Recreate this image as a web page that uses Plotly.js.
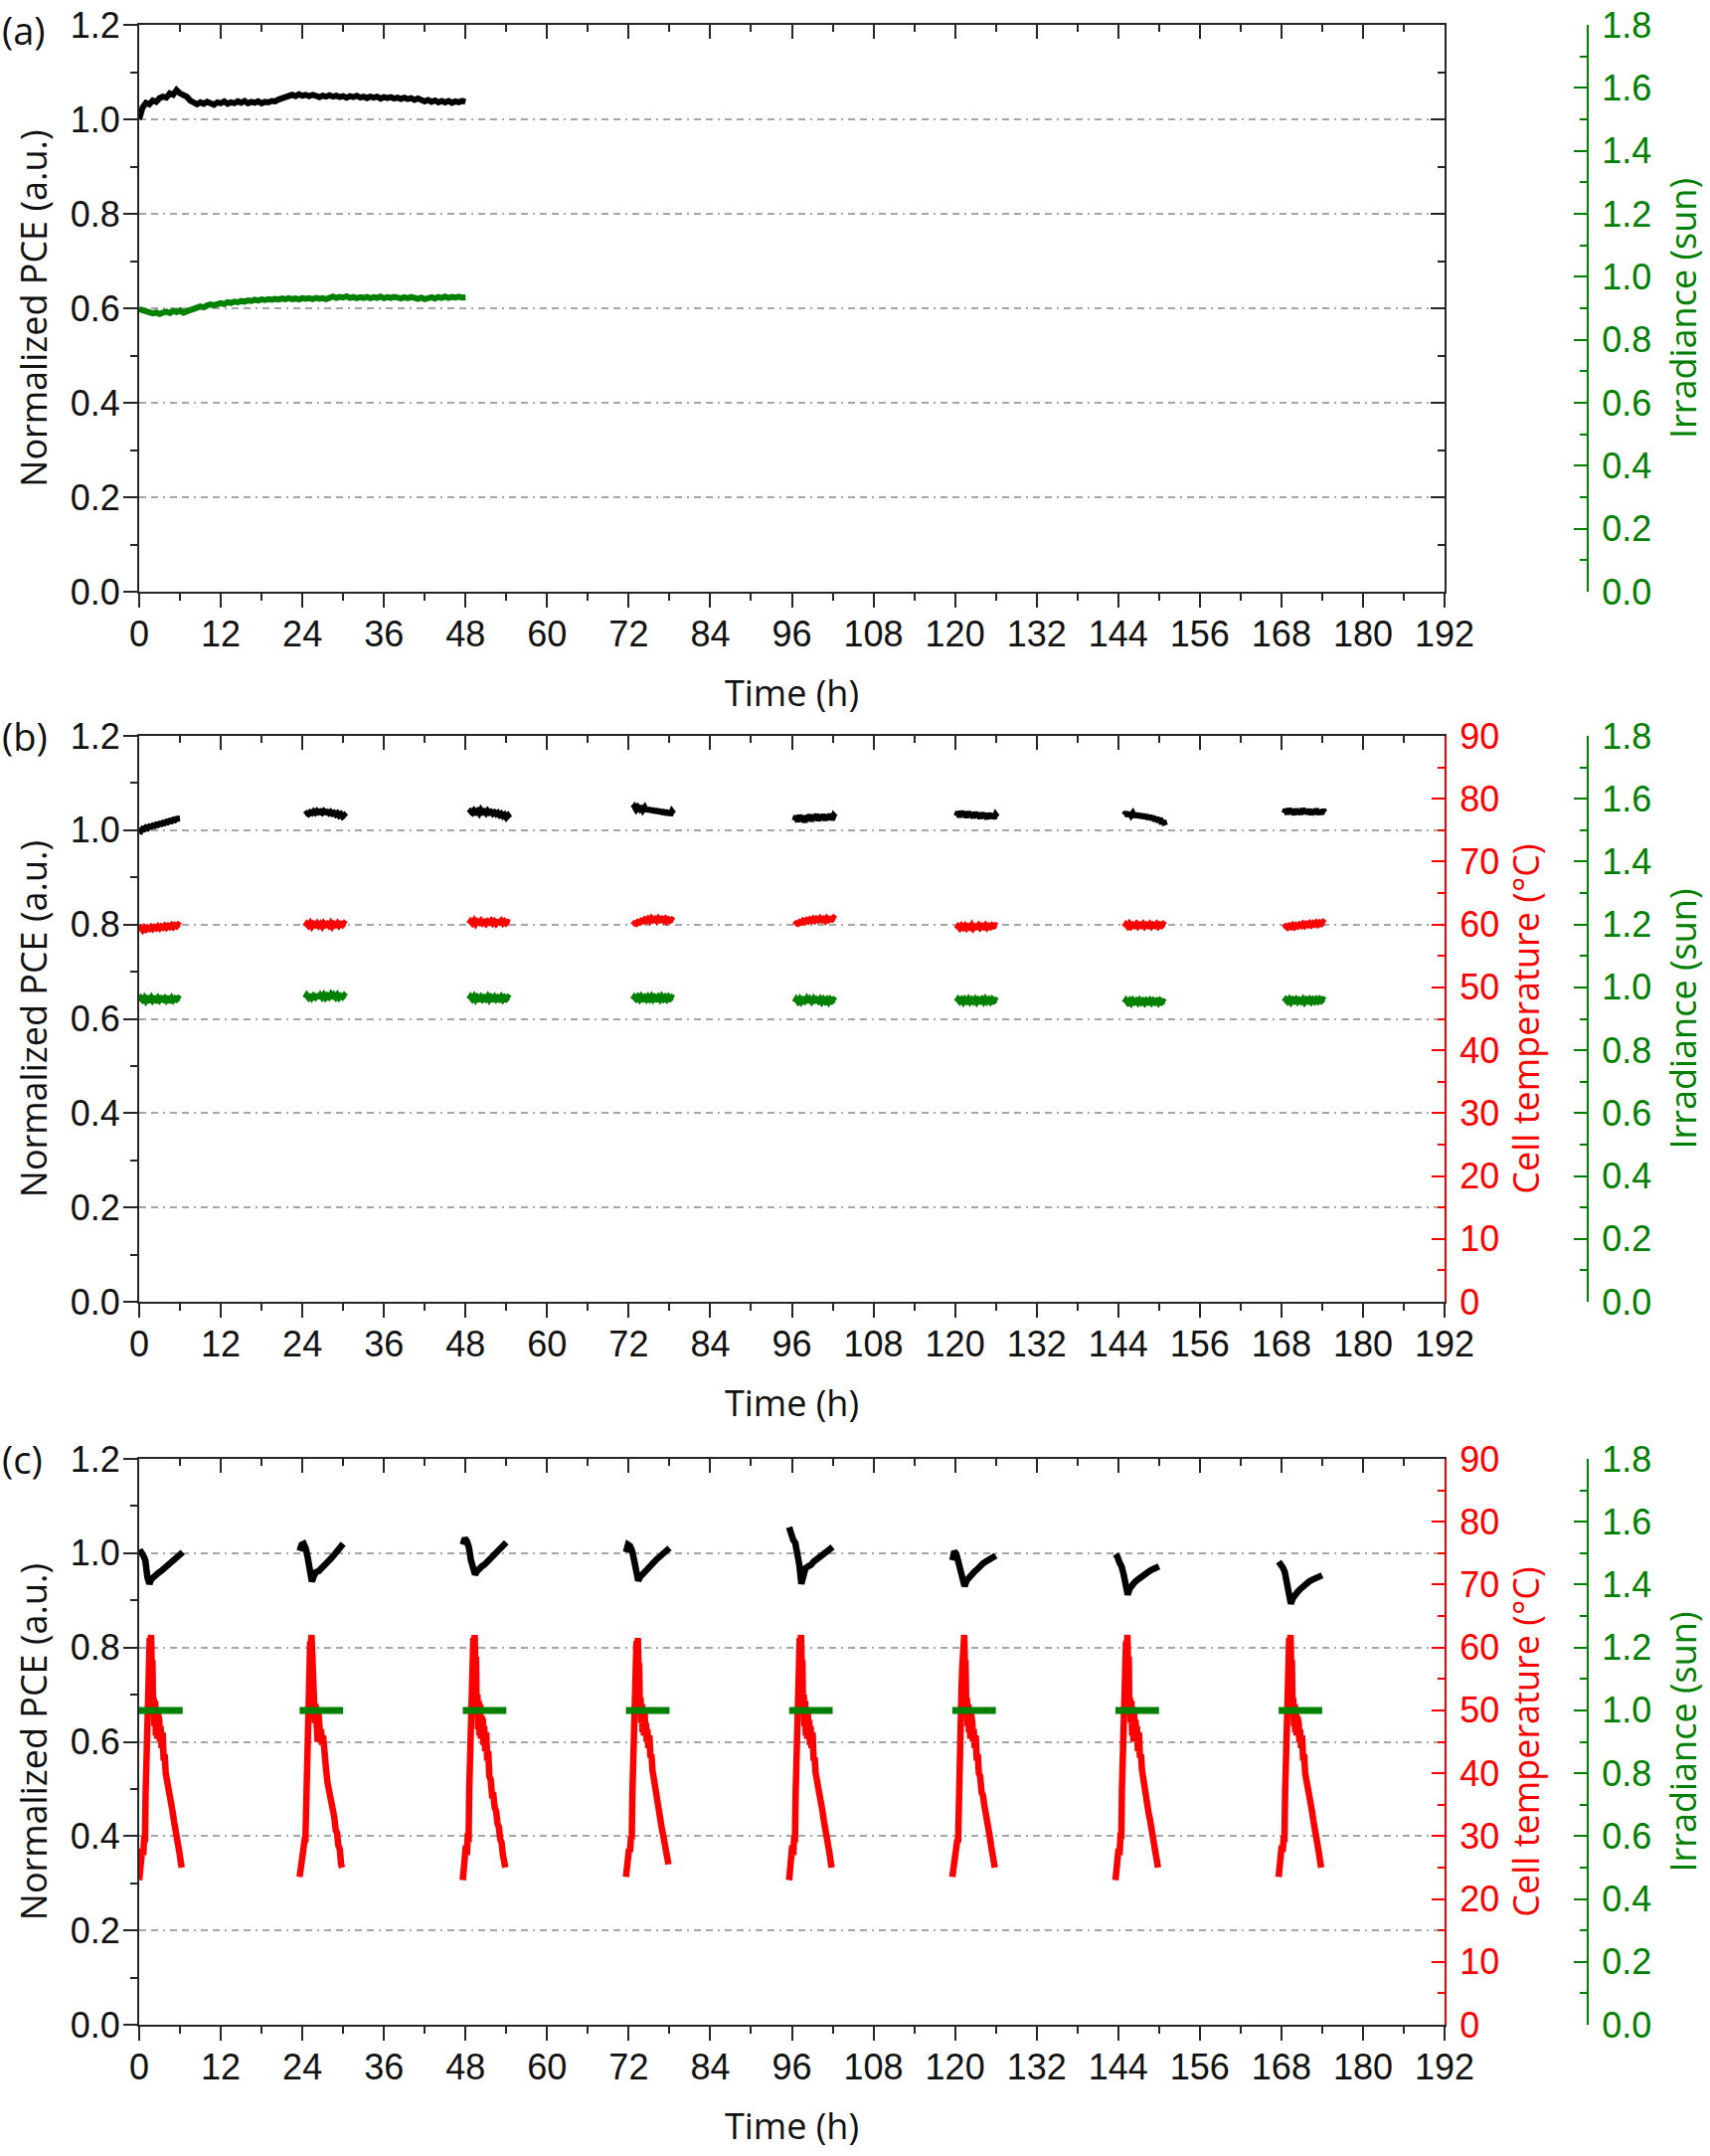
<!DOCTYPE html>
<html><head><meta charset="utf-8">
<script src="https://cdn.plot.ly/plotly-3.0.1.min.js"></script>
<style>html,body{margin:0;padding:0;background:#fff}</style>
</head><body><div id="chart" style="width:1720px;height:2168px"></div>
<script>
// ---------------- DATA ----------------
const xTickVals = [0,12,24,36,48,60,72,84,96,108,120,132,144,156,168,180,192];

// Panel (a): continuous 48 h run, sampled every 0.5 h
const aStep = 0.5;
const aPCE = [
 1.000,1.025,1.035,1.032,1.040,1.037,1.045,1.048,1.046,1.055,
 1.052,1.062,1.055,1.052,1.048,1.040,1.035,1.032,1.036,1.033,
 1.037,1.035,1.031,1.036,1.034,1.038,1.033,1.036,1.034,1.038,
 1.035,1.039,1.034,1.037,1.035,1.038,1.034,1.037,1.036,1.039,
 1.038,1.042,1.045,1.048,1.050,1.052,1.049,1.053,1.050,1.052,
 1.049,1.052,1.050,1.047,1.050,1.048,1.051,1.048,1.050,1.047,
 1.049,1.046,1.049,1.047,1.050,1.046,1.048,1.045,1.048,1.046,
 1.048,1.044,1.047,1.045,1.047,1.044,1.046,1.043,1.046,1.043,
 1.045,1.041,1.044,1.040,1.038,1.041,1.037,1.040,1.036,1.039,
 1.036,1.039,1.035,1.038,1.036,1.039,1.037];
const aIrr = [
 0.897,0.893,0.889,0.886,0.884,0.887,0.882,0.886,0.889,0.885,
 0.891,0.888,0.893,0.886,0.889,0.893,0.898,0.902,0.906,0.903,
 0.909,0.912,0.910,0.914,0.916,0.913,0.919,0.917,0.921,0.919,
 0.923,0.921,0.925,0.923,0.927,0.925,0.928,0.926,0.929,0.927,
 0.930,0.928,0.931,0.929,0.932,0.929,0.931,0.928,0.932,0.930,
 0.932,0.929,0.933,0.930,0.932,0.929,0.934,0.937,0.933,0.936,
 0.934,0.938,0.933,0.936,0.932,0.935,0.933,0.936,0.932,0.935,
 0.933,0.937,0.932,0.935,0.933,0.936,0.934,0.931,0.935,0.932,
 0.936,0.933,0.930,0.934,0.929,0.932,0.935,0.931,0.936,0.933,
 0.937,0.933,0.936,0.934,0.937,0.934,0.935];

// Panel (b): 8 daily segments, sampled every 0.25 h
const bStarts = [0, 24.4, 48.5, 72.6, 96.4, 120.2, 144.9, 168.4];
const bStep = 0.25;
const bPCE = [
 [1.000,0.998,1.003,1.002,1.006,1.004,1.008,1.007,1.010,1.009,1.012,1.011,1.014,1.013,1.016,1.015,1.018,1.017,1.020,1.019,1.022,1.021,1.024,1.023,1.025],
 [1.033,1.036,1.034,1.038,1.036,1.040,1.037,1.041,1.038,1.040,1.037,1.041,1.038,1.039,1.036,1.039,1.035,1.037,1.033,1.036,1.031,1.034,1.029,1.032,1.028],
 [1.036,1.040,1.037,1.042,1.038,1.041,1.036,1.043,1.038,1.040,1.036,1.041,1.037,1.039,1.035,1.038,1.034,1.037,1.032,1.035,1.030,1.033,1.027,1.031,1.026],
 [1.046,1.050,1.044,1.049,1.045,1.051,1.043,1.048,1.041,1.047,1.040,1.046,1.038,1.045,1.037,1.044,1.036,1.043,1.034,1.042,1.033,1.041,1.032,1.040,1.035],
 [1.020,1.030,1.018,1.032,1.021,1.029,1.017,1.031,1.022,1.033,1.019,1.030,1.023,1.034,1.020,1.031,1.024,1.033,1.021,1.032,1.023,1.034,1.022,1.031,1.027],
 [1.030,1.039,1.028,1.040,1.031,1.038,1.027,1.039,1.030,1.037,1.026,1.038,1.029,1.036,1.025,1.037,1.028,1.035,1.024,1.036,1.027,1.034,1.025,1.033,1.028],
 [1.032,1.038,1.030,1.037,1.031,1.036,1.029,1.035,1.028,1.034,1.027,1.033,1.026,1.032,1.024,1.031,1.023,1.029,1.020,1.027,1.018,1.025,1.014,1.020,1.010],
 [1.036,1.044,1.034,1.046,1.037,1.043,1.033,1.045,1.036,1.042,1.034,1.046,1.037,1.043,1.035,1.044,1.033,1.042,1.036,1.045,1.034,1.041,1.035,1.043,1.038]];
const bTemp = [
 [59.0,59.4,59.1,59.5,59.2,59.5,59.3,59.6,59.3,59.6,59.4,59.7,59.4,59.7,59.5,59.8,59.5,59.8,59.6,59.9,59.6,59.9,59.7,60.0,59.8],
 [59.7,60.1,59.8,60.2,59.7,60.1,59.9,60.2,59.8,60.1,59.7,60.2,59.9,60.1,59.8,60.2,59.7,60.1,59.9,60.2,59.8,60.1,59.9,60.2,60.0],
 [60.1,60.5,60.2,60.6,60.1,60.5,60.3,60.6,60.2,60.4,60.1,60.5,60.3,60.6,60.2,60.5,60.1,60.4,60.3,60.6,60.2,60.5,60.2,60.4,60.3],
 [59.9,60.2,60.1,60.4,60.3,60.6,60.5,60.8,60.6,60.9,60.6,61.0,60.7,60.9,60.6,61.0,60.7,60.9,60.6,60.9,60.5,60.8,60.6,60.8,60.6],
 [59.9,60.2,60.1,60.4,60.3,60.6,60.4,60.7,60.5,60.8,60.6,60.9,60.6,60.9,60.7,61.0,60.7,60.9,60.6,61.0,60.7,60.9,60.8,61.1,60.9],
 [59.3,59.7,59.4,59.8,59.5,59.8,59.4,59.7,59.5,59.9,59.4,59.7,59.6,59.9,59.5,59.8,59.6,59.9,59.5,59.8,59.6,59.9,59.7,59.9,59.8],
 [59.6,60.0,59.7,60.1,59.7,60.0,59.8,60.1,59.7,60.0,59.8,60.1,59.7,60.0,59.8,60.1,59.7,60.0,59.8,60.1,59.7,60.0,59.8,60.1,59.9],
 [59.4,59.7,59.5,59.8,59.6,59.9,59.6,59.9,59.7,60.0,59.8,60.1,59.8,60.1,59.9,60.2,59.9,60.2,60.0,60.3,60.0,60.3,60.1,60.4,60.2]];
const bIrr = [
 [0.958,0.966,0.960,0.967,0.957,0.965,0.961,0.968,0.958,0.964,0.960,0.967,0.959,0.965,0.961,0.966,0.958,0.964,0.960,0.967,0.959,0.965,0.961,0.966,0.962],
 [0.966,0.975,0.968,0.977,0.967,0.974,0.969,0.978,0.966,0.975,0.968,0.976,0.967,0.974,0.969,0.977,0.966,0.975,0.968,0.976,0.967,0.973,0.969,0.975,0.970],
 [0.962,0.970,0.963,0.971,0.961,0.969,0.964,0.970,0.962,0.968,0.963,0.971,0.961,0.969,0.964,0.970,0.962,0.968,0.963,0.970,0.961,0.968,0.963,0.969,0.965],
 [0.961,0.969,0.963,0.970,0.962,0.971,0.964,0.969,0.962,0.970,0.963,0.971,0.962,0.969,0.964,0.970,0.962,0.971,0.963,0.969,0.962,0.970,0.964,0.969,0.966],
 [0.953,0.962,0.955,0.963,0.954,0.961,0.956,0.964,0.953,0.962,0.955,0.963,0.952,0.961,0.956,0.963,0.954,0.962,0.955,0.961,0.953,0.962,0.956,0.961,0.957],
 [0.954,0.962,0.955,0.961,0.953,0.962,0.956,0.963,0.954,0.961,0.955,0.962,0.953,0.961,0.956,0.962,0.954,0.963,0.955,0.961,0.954,0.962,0.956,0.960,0.957],
 [0.951,0.959,0.952,0.958,0.950,0.959,0.953,0.958,0.951,0.959,0.952,0.957,0.950,0.958,0.953,0.959,0.951,0.958,0.952,0.957,0.950,0.958,0.952,0.956,0.953],
 [0.954,0.961,0.955,0.962,0.953,0.961,0.956,0.962,0.954,0.960,0.955,0.962,0.953,0.961,0.956,0.962,0.954,0.961,0.955,0.962,0.956,0.963,0.957,0.962,0.959]];

// Panel (c): 8 daily cycles
const cStarts = [0, 23.6, 47.6, 71.6, 95.6, 119.6, 143.6, 167.6];
const cPCETime = [0,0.3,0.6,0.9,1.2,1.5,1.8,2.1,2.4,2.8,3.2,3.6,4.0,4.5,5.0,5.5,6.0,6.4];
const cPCE = [
 [1.000,1.002,0.995,0.985,0.950,0.935,0.945,0.950,0.955,0.958,0.962,0.967,0.972,0.978,0.985,0.992,0.998,1.002],
 [1.005,1.018,1.020,1.010,0.990,0.962,0.940,0.952,0.960,0.962,0.967,0.972,0.980,0.987,0.995,1.003,1.012,1.020],
 [1.018,1.032,1.025,1.012,0.985,0.962,0.955,0.962,0.968,0.972,0.976,0.982,0.988,0.995,1.003,1.010,1.017,1.023],
 [1.002,1.018,1.015,1.005,0.985,0.960,0.942,0.950,0.955,0.962,0.968,0.975,0.980,0.987,0.993,1.000,1.006,1.011],
 [1.055,1.035,1.028,1.022,1.005,0.975,0.935,0.955,0.968,0.972,0.975,0.982,0.987,0.993,0.998,1.004,1.009,1.013],
 [0.985,1.004,0.998,0.982,0.960,0.940,0.930,0.942,0.948,0.953,0.960,0.965,0.972,0.978,0.983,0.988,0.992,0.995],
 [0.998,0.992,0.980,0.972,0.955,0.930,0.912,0.925,0.932,0.938,0.943,0.948,0.953,0.958,0.962,0.966,0.970,0.972],
 [0.982,0.978,0.970,0.960,0.940,0.910,0.893,0.905,0.912,0.918,0.924,0.930,0.935,0.940,0.944,0.948,0.951,0.953]];
const cTempTime = [0,0.15,0.3,0.45,0.6,0.75,0.85,0.95,1.05,1.15,
 1.25,1.35,1.45,1.55,1.65,1.75,1.85,1.95,2.05,2.15,
 2.25,2.35,2.45,2.55,2.65,2.75,2.85,2.95,3.05,3.15,
 3.3,3.45,3.6,3.75,3.9,4.1,4.3,4.5,4.7,4.9,
 5.1,5.3,5.5,5.7,5.9,6.1,6.25];
const cTemp = [
 [23.0,25.5,24.5,28.0,27.0,30.0,29.0,37.0,42.5,41.0, 50.0,54.0,56.0,61.5,60.0,62.0,57.0,58.0,50.0,52.0, 47.5,51.5,46.0,50.5,45.5,49.5,46.0,48.5,45.0,47.5, 44.0,46.5,42.0,43.0,40.0,39.0,37.0,36.5,35.0,34.0, 32.5,31.5,30.0,29.0,27.5,26.0,25.0],
 [23.5,25.0,25.0,27.5,27.5,29.5,29.5,36.5,42.0,41.5, 50.5,53.5,56.5,61.0,60.5,62.0,57.5,57.5,50.5,51.5, 48.0,51.0,46.5,50.0,45.0,50.0,46.5,48.0,45.5,47.0, 44.5,46.0,42.5,42.5,40.5,38.5,37.5,36.0,35.5,33.5, 33.0,31.0,30.5,28.5,28.0,25.5,25.0],
 [23.0,26.0,24.5,28.5,27.0,30.5,29.0,37.5,43.0,41.0, 49.5,54.5,55.5,61.5,59.5,62.0,56.5,58.5,49.5,52.5, 47.0,51.5,46.0,51.0,45.5,49.0,45.5,48.5,44.5,47.5, 43.5,46.5,42.0,43.5,39.5,39.0,36.5,36.5,34.5,34.0, 32.0,31.5,29.5,29.0,27.0,26.0,25.0],
 [23.5,25.5,25.0,28.0,27.5,30.0,29.5,37.0,42.0,41.5, 50.0,54.0,56.0,61.0,60.0,61.5,57.0,57.5,50.0,52.0, 48.0,51.0,46.5,50.5,46.0,49.5,46.5,48.0,45.0,47.0, 44.0,46.0,42.5,43.0,40.5,39.0,37.0,36.0,35.0,33.5, 32.5,31.0,30.0,28.5,27.5,26.0,25.5],
 [23.0,25.5,24.5,28.5,27.0,30.0,29.0,36.5,42.5,41.0, 50.5,54.5,56.0,61.5,60.0,62.0,57.0,58.0,50.0,52.5, 47.5,51.5,46.0,50.5,45.5,49.5,46.0,48.5,44.5,47.5, 44.0,46.5,42.0,42.5,40.0,39.0,37.0,36.5,35.0,34.0, 32.5,31.5,30.0,29.0,27.5,26.0,25.0],
 [23.5,25.0,25.0,28.0,27.5,29.5,29.0,37.0,42.5,41.5, 50.0,53.5,56.5,61.5,60.5,62.0,57.5,57.5,50.5,52.0, 47.5,51.0,46.5,50.0,45.5,49.5,46.0,48.0,45.0,47.0, 44.0,46.0,42.0,43.0,40.0,39.5,37.0,36.5,35.0,34.0, 32.5,31.5,30.0,28.5,27.5,26.0,25.0],
 [23.0,26.0,24.5,28.0,27.0,30.5,29.5,37.5,42.5,41.0, 49.5,54.0,56.0,61.0,60.0,62.0,57.0,58.5,50.0,52.0, 48.0,51.5,46.0,50.5,45.0,49.5,46.5,48.5,45.0,47.5, 43.5,46.5,42.5,43.0,40.5,39.0,36.5,36.5,35.0,33.5, 32.5,31.0,30.0,29.0,27.0,26.0,25.0],
 [23.5,25.5,25.0,28.5,27.5,30.0,29.0,37.0,42.0,41.5, 50.0,54.5,56.5,61.5,60.0,62.0,56.5,58.0,50.5,52.0, 47.5,51.0,46.5,50.0,46.0,49.0,46.0,48.0,45.0,47.0, 44.0,46.0,42.0,43.0,40.0,39.0,37.0,36.0,35.0,34.0, 32.5,31.5,30.5,28.5,27.5,26.0,25.0]];
const cIrrTime = [0,1,2,3,4,5,6,6.4];
const cIrr = [
 [1.000,1.000,1.000,1.000,1.000,1.000,1.000,1.000],
 [1.000,1.000,1.000,1.000,1.000,1.000,1.000,1.000],
 [1.000,1.000,1.000,1.000,1.000,1.000,1.000,1.000],
 [1.000,1.000,1.000,1.000,1.000,1.000,1.000,1.000],
 [1.000,1.000,1.000,1.000,1.000,1.000,1.000,1.000],
 [1.000,1.000,1.000,1.000,1.000,1.000,1.000,1.000],
 [1.000,1.000,1.000,1.000,1.000,1.000,1.000,1.000],
 [1.000,1.000,1.000,1.000,1.000,1.000,1.000,1.000]];

// ---------------- BUILD ----------------
function regular(start, step, vals){ return vals.map((v,i)=>start+i*step); }
function segments(starts, timesFor, vals){
  const x=[], y=[];
  starts.forEach((s,i)=>{
    const rel = timesFor(i);
    vals[i].forEach((v,j)=>{ x.push(s+rel[j]); y.push(v); });
    x.push(null); y.push(null);
  });
  return {x, y};
}
const bRel = i => bPCE[i].map((v,j)=>j*bStep);

const W=1720, H=2168;
const BLACK='#000000', RED='#ff0000', GREEN='#008000', AX='#262626';
const GRID='#a6a6a6';
const xd=[140/W, 1453/W];
const greenPos = 1597/W;
const dom = {
  a:[1-595/H, 1-25/H],
  b:[1-1309/H, 1-740/H],
  c:[1-2036/H, 1-1467/H]
};
const tickFont = {family:'Liberation Sans, Arial, sans-serif', size:36, color:'#111'};
const titleFont = (c)=>({family:'Open Sans, Noto Sans, sans-serif', size:36, color:c});

const A = segments([0], i=>regular(0,aStep,aPCE), [aPCE]);
const Ai = segments([0], i=>regular(0,aStep,aIrr), [aIrr]);
const Bp = segments(bStarts, bRel, bPCE);
const Bt = segments(bStarts, bRel, bTemp);
const Bi = segments(bStarts, bRel, bIrr);
const Cp = segments(cStarts, i=>cPCETime, cPCE);
const Ct = segments(cStarts, i=>cTempTime, cTemp);
const Ci = segments(cStarts, i=>cIrrTime, cIrr);

function line(d, xa, ya, color, w, name){
  return {type:'scatter', mode:'lines', x:d.x, y:d.y, xaxis:xa, yaxis:ya, name:name,
    line:{color:color, width:w}, connectgaps:false, hoverinfo:'skip', showlegend:false};
}
// empty traces so the frame axes (top / right mirrors) exist as subplots
function frame(xa, ya){ return {type:'scatter', mode:'lines', x:[], y:[], xaxis:xa, yaxis:ya, showlegend:false, hoverinfo:'skip'}; }
const traces = [
  frame('x2','y'), frame('x','y2'), frame('x4','y4'), frame('x6','y7'),
  line(Ai,'x','y3',GREEN,6,'Irradiance'),
  line(A,'x','y',BLACK,6,'Normalized PCE'),
  line(Bi,'x3','y6',GREEN,6,'Irradiance'),
  line(Bt,'x3','y5',RED,6,'Cell temperature'),
  line(Bp,'x3','y4',BLACK,6,'Normalized PCE'),
  line(Ci,'x5','y9',GREEN,7,'Irradiance'),
  line(Ct,'x5','y8',RED,6.5,'Cell temperature'),
  line(Cp,'x5','y7',BLACK,6.5,'Normalized PCE')
];

function xBottom(anchor){
  return {domain:xd, anchor:anchor, range:[0,192], tickmode:'array', tickvals:xTickVals,
    ticks:'outside', ticklen:14, tickwidth:2, tickcolor:AX, showline:true, linecolor:AX, linewidth:2,
    showgrid:false, zeroline:false, tickfont:tickFont, ticklabelstandoff:-4,
    minor:{tickmode:'linear', tick0:0, dtick:6, ticks:'outside', ticklen:7, tickwidth:2, tickcolor:AX, showgrid:false},
    title:{text:'Time (h)', font:titleFont('#111'), standoff:28}};
}
function xTop(over, anchor){
  return {overlaying:over, anchor:anchor, side:'top', range:[0,192], tickmode:'linear', tick0:0, dtick:12,
    ticks:'inside', ticklen:14, tickwidth:2, tickcolor:AX, showline:true, linecolor:AX, linewidth:2,
    showgrid:false, zeroline:false, showticklabels:false,
    minor:{tickmode:'linear', tick0:0, dtick:6, ticks:'inside', ticklen:7, tickwidth:2, tickcolor:AX, showgrid:false}};
}
function yLeft(d, anchor){
  return {domain:d, anchor:anchor, range:[0,1.2], tickmode:'linear', tick0:0, dtick:0.2, tickformat:'.1f',
    ticks:'outside', ticklen:14, tickwidth:2, tickcolor:AX, showline:true, linecolor:AX, linewidth:2,
    showgrid:true, gridcolor:GRID, gridwidth:2, griddash:'7px,5px,7px,5px,2px,5px', zeroline:false,
    tickfont:tickFont, ticklabelstandoff:-4,
    minor:{tickmode:'linear', tick0:0, dtick:0.1, ticks:'outside', ticklen:7, tickwidth:2, tickcolor:AX, showgrid:false},
    title:{text:'Normalized PCE (a.u.)', font:titleFont('#111'), standoff:12}};
}
function yMirror(over, anchor){
  return {overlaying:over, anchor:anchor, side:'right', range:[0,1.2], tickmode:'linear', tick0:0, dtick:0.2,
    ticks:'inside', ticklen:14, tickwidth:2, tickcolor:AX, showline:true, linecolor:AX, linewidth:2,
    showgrid:false, zeroline:false, showticklabels:false,
    minor:{tickmode:'linear', tick0:0, dtick:0.1, ticks:'inside', ticklen:7, tickwidth:2, tickcolor:AX, showgrid:false}};
}
function yTemp(over, anchor){
  return {overlaying:over, anchor:anchor, side:'right', range:[0,90], tickmode:'linear', tick0:0, dtick:10,
    ticks:'inside', ticklen:13, tickwidth:2, tickcolor:RED, showline:true, linecolor:RED, linewidth:2,
    showgrid:false, zeroline:false, tickfont:Object.assign({},tickFont,{color:RED}), ticklabelstandoff:6,
    minor:{tickmode:'linear', tick0:0, dtick:5, ticks:'inside', ticklen:7, tickwidth:2, tickcolor:RED, showgrid:false},
    title:{text:'Cell temperature (°C)', font:titleFont(RED), standoff:16}};
}
function yIrr(over){
  return {overlaying:over, anchor:'free', position:greenPos, side:'right', range:[0,1.8], tickmode:'linear', tick0:0, dtick:0.2, tickformat:'.1f',
    ticks:'inside', ticklen:13, tickwidth:2, tickcolor:GREEN, showline:true, linecolor:GREEN, linewidth:2,
    showgrid:false, zeroline:false, tickfont:Object.assign({},tickFont,{color:GREEN}), ticklabelstandoff:6,
    minor:{tickmode:'linear', tick0:0, dtick:0.1, ticks:'inside', ticklen:7, tickwidth:2, tickcolor:GREEN, showgrid:false},
    title:{text:'Irradiance (sun)', font:titleFont(GREEN), standoff:20}};
}

const panelFont = Object.assign(titleFont('#111'),{size:38});
const layout = {
  width:W, height:H, margin:{l:0,r:0,t:0,b:0}, paper_bgcolor:'#fff', plot_bgcolor:'rgba(0,0,0,0)',
  showlegend:false,
  xaxis: xBottom('y'),  xaxis2: xTop('x','y'),
  yaxis: yLeft(dom.a,'x'), yaxis2: yMirror('y','x'), yaxis3: yIrr('y'),
  xaxis3: xBottom('y4'), xaxis4: xTop('x3','y4'),
  yaxis4: yLeft(dom.b,'x3'), yaxis5: yTemp('y4','x3'), yaxis6: yIrr('y4'),
  xaxis5: xBottom('y7'), xaxis6: xTop('x5','y7'),
  yaxis7: yLeft(dom.c,'x5'), yaxis8: yTemp('y7','x5'), yaxis9: yIrr('y7'),
  annotations:[
    {text:'(a)', xref:'paper', yref:'paper', x:0, y:1-30/H, xanchor:'left', yanchor:'middle', showarrow:false, font:panelFont},
    {text:'(b)', xref:'paper', yref:'paper', x:0, y:1-740/H, xanchor:'left', yanchor:'middle', showarrow:false, font:panelFont},
    {text:'(c)', xref:'paper', yref:'paper', x:0, y:1-1467/H, xanchor:'left', yanchor:'middle', showarrow:false, font:panelFont}
  ]
};
Plotly.newPlot('chart', traces, layout, {displayModeBar:false, staticPlot:true});
</script></body></html>
